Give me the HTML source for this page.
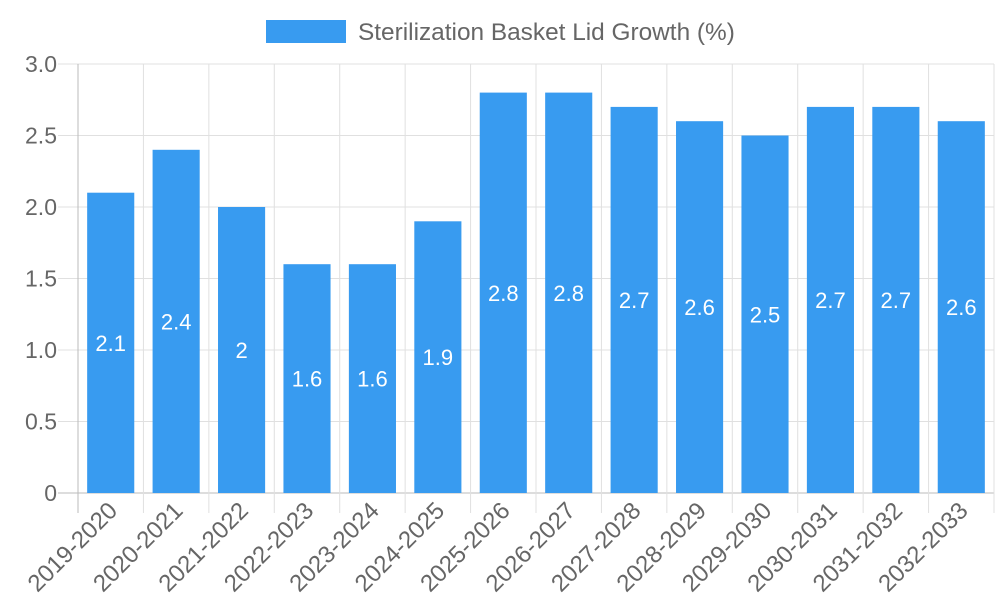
<!DOCTYPE html>
<html><head><meta charset="utf-8"><style>
body{margin:0;background:#fff;}
svg{display:block;font-family:"Liberation Sans",sans-serif;}
</style></head><body>
<svg id="chart" width="1000" height="600"></svg>
<script>
const categories=["2019-2020","2020-2021","2021-2022","2022-2023","2023-2024","2024-2025","2025-2026","2026-2027","2027-2028","2028-2029","2029-2030","2030-2031","2031-2032","2032-2033"];
const values=[2.1,2.4,2,1.6,1.6,1.9,2.8,2.8,2.7,2.6,2.5,2.7,2.7,2.6];
const yTicks=[0,0.5,1.0,1.5,2.0,2.5,3.0];
const yTickLabels=["0","0.5","1.0","1.5","2.0","2.5","3.0"];
const NS="http://www.w3.org/2000/svg";
const svg=document.getElementById('chart');
const L=78,R=994,T=64,B=493,yMax=3;
const bw=(R-L)/categories.length;
const y=v=>B-(v/yMax)*(B-T);
const x=i=>L+i*bw;
function mk(tag,attrs,parent){const e=document.createElementNS(NS,tag);for(const k in attrs)e.setAttribute(k,attrs[k]);(parent||svg).appendChild(e);return e;}
yTicks.forEach((t,i)=>{
 const g=mk('line',{x1:L-20,x2:R,y1:y(t),y2:y(t),stroke:i===0?'#bbb':'#e0e0e0','stroke-width':1});
 
 
 const tx=mk('text',{x:L-21,y:y(t)+8,'text-anchor':'end','font-size':23,fill:'#666'});
 tx.textContent=yTickLabels[i];
 
 
});
for(let i=0;i<=categories.length;i++){
 const g=mk('line',{x1:x(i),x2:x(i),y1:T,y2:B+20,stroke:i===0?'#bbb':'#e0e0e0','stroke-width':1});
 
 
}
categories.forEach((c,i)=>{
 const cx=x(i)+bw/2, w=bw*0.72;
 const r=mk('rect',{x:cx-w/2,y:y(values[i]),width:w,height:B-y(values[i]),fill:'#389bf0'});
 
 
 const v=mk('text',{x:cx,y:(y(values[i])+B)/2+8,'text-anchor':'middle','font-size':22,fill:'#fff'});
 v.textContent=String(values[i]);
 
 
 const lx=cx+8, ly=B+19;
 const t=mk('text',{x:lx,y:ly,'text-anchor':'end','font-size':24,fill:'#666',transform:`rotate(-45 ${lx} ${ly})`});
 t.textContent=c;
 
 
});
const lg=mk('g',{});


mk('rect',{x:266,y:20,width:80,height:23,fill:'#389bf0'},lg);
const lt=mk('text',{x:358,y:40,'font-size':24.4,fill:'#666'},lg);
lt.textContent="Sterilization Basket Lid Growth (%)";
</script>
</body></html>
